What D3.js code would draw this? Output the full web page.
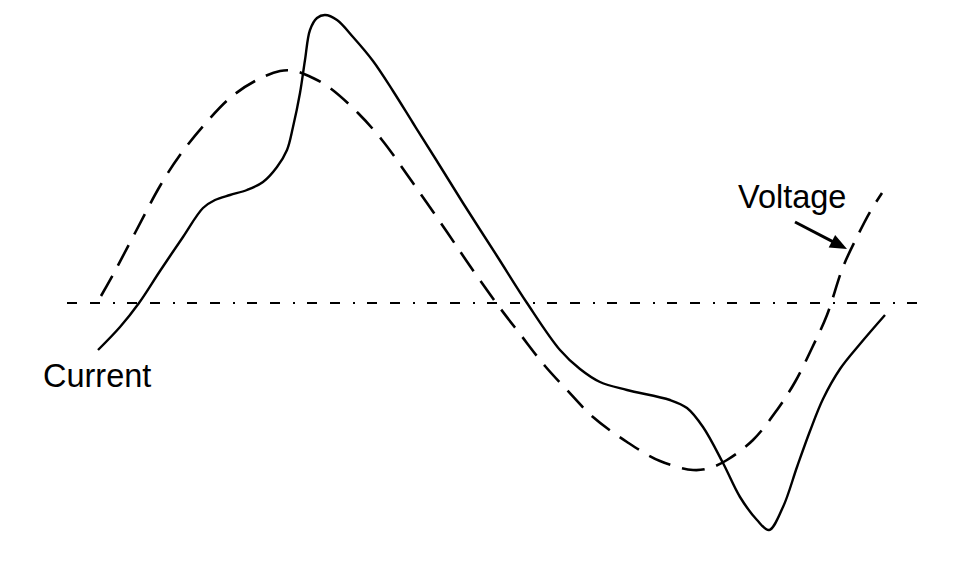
<!DOCTYPE html>
<html>
<head>
<meta charset="utf-8">
<script src="https://cdn.jsdelivr.net/npm/d3@7"></script>
<style>
  body { margin: 0; background: #fff; }
  svg { display: block; }
</style>
</head>
<body>
<div id="chart-area"></div>
<script>
// values: t = time (arbitrary units), v = amplitude above the axis
var voltageT = [34, 48, 68, 93, 113, 138, 163, 188, 213, 228, 246, 263, 291, 315, 346, 380, 403, 430,
                453, 478, 500, 526, 560, 593, 626, 643, 660, 686, 710, 728, 745, 760, 776, 790, 803, 815];
var voltageV = [7, 32, 70, 117, 148, 179, 205, 222, 232, 232, 225, 215, 190, 163, 120, 71, 37, -1,
                -31, -63, -87, -114, -139, -158, -167, -165, -157, -137, -107, -79, -45, -12, 36, 66, 91, 110];

var currentT = [31, 53, 72, 93, 116, 136, 148, 163, 180, 196, 210, 220, 226, 233, 238, 243, 250, 258, 270, 286,
                306, 326, 346, 368, 396, 430, 460, 493, 513, 533, 560, 603, 620, 636, 656, 673, 690, 702,
                716, 730, 743, 756, 773, 793, 818];
var currentV = [-47, -24, 0, 32, 66, 95, 103, 108, 113, 121, 136, 153, 176, 210, 243, 273, 285, 288, 283, 266,
                242, 212, 180, 145, 100, 47, 0, -47, -66, -79, -87, -97, -105, -124, -160, -194, -217, -227,
                -204, -164, -128, -96, -66, -41, -12];

var labels = ["Voltage", "Current"];

var width = 955, height = 588;

var svg = d3.select("#chart-area")
    .append("svg")
    .attr("width", width)
    .attr("height", height);

var x = d3.scaleLinear().domain([0, 860]).range([67, 927]);
var y = d3.scaleLinear().domain([-290, 290]).range([593, 13]);

var voltage = voltageT.map((t, i) => ({ t: t, v: voltageV[i] }));
var current = currentT.map((t, i) => ({ t: t, v: currentV[i] }));

var line = d3.line()
    .x(d => x(d.t))
    .y(d => y(d.v))
    .curve(d3.curveCatmullRom.alpha(0.5));

// zero axis, dash-dash-dot
svg.append("line")
    .attr("x1", x(0))
    .attr("x2", x(862))
    .attr("y1", y(0))
    .attr("y2", y(0))
    .attr("stroke", "#000")
    .attr("stroke-width", 2)
    .attr("stroke-dasharray", "10,13,10,13,2,12");

// voltage (dashed)
svg.append("path")
    .datum(voltage)
    .attr("d", line)
    .attr("fill", "none")
    .attr("stroke", "#000")
    .attr("stroke-width", 2.6)
    .attr("stroke-dasharray", "23,12");

// current (solid)
svg.append("path")
    .datum(current)
    .attr("d", line)
    .attr("fill", "none")
    .attr("stroke", "#000")
    .attr("stroke-width", 2.4);

// labels
svg.append("text")
    .attr("x", x(671))
    .attr("y", y(95))
    .attr("font-family", "Liberation Sans, Arial, sans-serif")
    .attr("font-size", "32.5px")
    .text(labels[0]);

svg.append("text")
    .attr("x", x(-24))
    .attr("y", y(-84))
    .attr("font-family", "Liberation Sans, Arial, sans-serif")
    .attr("font-size", "32.5px")
    .text(labels[1]);

// arrow pointing to the voltage curve
var ax0 = x(728), ay0 = y(81), ax1 = x(780), ay1 = y(54);
var dx = ax1 - ax0, dy = ay1 - ay0, len = Math.sqrt(dx * dx + dy * dy);
var ux = dx / len, uy = dy / len;
var headL = 17, headW = 7;
var bx = ax1 - ux * headL, by = ay1 - uy * headL;

svg.append("line")
    .attr("x1", ax0).attr("y1", ay0)
    .attr("x2", bx + ux * 2).attr("y2", by + uy * 2)
    .attr("stroke", "#000")
    .attr("stroke-width", 3);

svg.append("path")
    .attr("d", "M" + ax1 + "," + ay1 +
               "L" + (bx - uy * headW) + "," + (by + ux * headW) +
               "L" + (bx + uy * headW) + "," + (by - ux * headW) + "Z")
    .attr("fill", "#000");
</script>
</body>
</html>
